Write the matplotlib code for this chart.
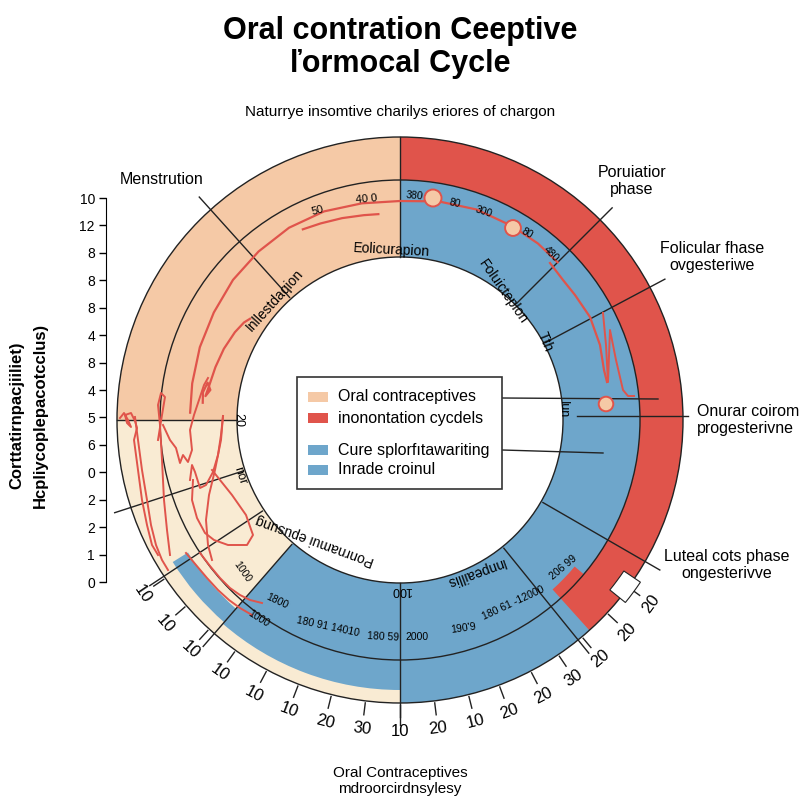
import numpy as np
import matplotlib
matplotlib.use('Agg')
import matplotlib.pyplot as plt
from matplotlib.patches import Wedge, Circle, Rectangle

plt.rcParams['font.family'] = ['Liberation Sans', 'DejaVu Sans']

PEACH = '#f5c9a6'
CREAM = '#f9ebd3'
BLUE = '#6ea6cb'
RED = '#e0544b'

# ring segments (deg, counter-clockwise from 3 o'clock)
seg_start = [90, 180, -131, -46, -90, 229, 212, -48, -39]
seg_end = [180, 270, 90, 90, -46, 270, 229, -40, -34]
seg_layer = ['both', 'both', 'inner', 'outer', 'outer', 'band', 'thin', 'step', 'notch']
seg_color = [PEACH, CREAM, BLUE, RED, BLUE, BLUE, BLUE, RED, 'white']

# divider / leader lines (deg)
divider_angles = [132, 45, 28, -30, -51, 198, 213.5, 229]

# outer scale around the bottom
scale_angles = [214, 221, 227.6, 234.5, 242, 249, 256, 263, 270, 277, 284,
                290.5, 297.5, 304, 310, 317, 323.8]
scale_labels = ['10', '10', '10', '10', '10', '10', '20', '30', '10', '20', '10',
                '20', '20', '30', '20', '20', '20']

# left axis
left_labels = ['10', '12', '8', '8', '8', '4', '8', '4', '5', '6', '0', '2', '2', '1', '0']

# hormone curves (polar: angle deg, radius)
arc_long_ang = [178, 170, 160, 150, 140, 130, 120, 110, 100, 90, 80, 70, 60, 52, 45]
arc_long_r = [210, 211, 213, 215, 218, 220, 222, 222, 220, 219, 222, 224, 224, 224, 223]
arc_short_ang = [117, 112, 106, 100, 96]
arc_short_r = [214, 212, 210, 208, 207]
arc_inner_ang = [146, 148, 152, 158, 164, 170, 173, 171, 169, 172, 175]
arc_inner_r = [181, 184, 187, 190, 192, 194, 196, 192, 196, 199, 198]

# hand traced squiggles (picture coords, y down)
sq_x = [
    [120, 124, 128, 131, 127, 125, 131, 135, 137, 134, 138, 142, 147, 152, 158],
    [135, 138, 142, 147, 151, 156, 162, 168],
    [158, 162, 165, 161, 158, 160, 162, 164, 167, 170],
    [163, 170, 176, 180, 183, 188, 192, 190, 194, 199, 204, 208],
    [190, 192, 195, 200, 206, 213, 218, 221, 223],
    [193, 192, 197, 205, 214, 228, 247, 253, 246, 232, 220, 212],
    [223, 221, 215, 209, 206, 208, 212],
    [186, 196, 207, 218, 229, 240, 252],
    [200, 210, 220, 230, 240, 250, 262],
]
sq_y = [
    [418, 413, 420, 427, 423, 415, 413, 421, 428, 440, 470, 500, 525, 545, 555],
    [417, 440, 470, 500, 525, 545, 560, 570],
    [440, 415, 397, 393, 405, 425, 460, 500, 530, 555],
    [425, 440, 448, 463, 455, 462, 450, 430, 415, 400, 385, 378],
    [480, 465, 472, 488, 485, 472, 455, 435, 416],
    [480, 500, 518, 533, 540, 545, 545, 535, 515, 495, 480, 470],
    [416, 440, 470, 495, 520, 545, 560],
    [553, 565, 578, 590, 600, 608, 615],
    [553, 566, 578, 588, 595, 600, 603],
]
right_x = [550, 563, 575, 590, 600, 604, 607]
right_y = [263, 280, 295, 317, 345, 370, 382]
right2_x = [603, 606, 608, 610, 616, 623, 628, 634]
right2_y = [313, 345, 382, 330, 360, 390, 396, 396]

# hormone markers (picture coords)
dot_x = [433, 513, 606]
dot_y = [198, 228, 404]

legend_labels = ['Oral contraceptives', 'inonontation cycdels',
                 'Cure splorfıtawariting', 'Inrade croinul']
legend_colors = [PEACH, RED, BLUE, BLUE]

CX, CY = 400, 380
R_IN, R_MID, R_OUT = 163, 240, 283
layer_r = {'both': (R_IN, R_OUT), 'inner': (R_IN, R_MID), 'outer': (R_MID, R_OUT),
           'band': (R_MID, 270), 'thin': (250, 268), 'step': (228, R_OUT),
           'notch': (270, 290)}


def py(y):
    return 800 - np.asarray(y, dtype=float)


def polar(ang, r):
    a = np.radians(np.asarray(ang, dtype=float))
    r = np.asarray(r, dtype=float)
    return CX + r * np.cos(a), CY + r * np.sin(a)


fig = plt.figure(figsize=(8, 8), dpi=100)
ax = fig.add_axes([0, 0, 1, 1])
ax.set_xlim(0, 800)
ax.set_ylim(0, 800)
ax.axis('off')

# ring fills
for t1, t2, layer, col in zip(seg_start, seg_end, seg_layer, seg_color):
    r0, r1 = layer_r[layer]
    if layer == 'notch':
        continue
    ax.add_patch(Wedge((CX, CY), r1, t1, t2, width=r1 - r0, facecolor=col,
                       edgecolor='none', zorder=1))

for r in (R_IN, R_MID, R_OUT):
    ax.add_patch(Circle((CX, CY), r, fill=False, edgecolor='#222222', lw=1.0, zorder=3))

# white notch at the luteal end
i = seg_layer.index('notch')
ax.add_patch(Wedge((CX, CY), layer_r['notch'][1], seg_start[i], seg_end[i],
                   width=layer_r['notch'][1] - layer_r['notch'][0],
                   facecolor='white', edgecolor='#222222', lw=0.8, zorder=4))

# divider lines
for a in divider_angles:
    x, y = polar([a, a], [R_IN + 2, 300])
    ax.plot(x, y, color='#222222', lw=1.0, zorder=3)
x, y = polar([90, 90], [R_IN, R_OUT])
ax.plot(x, y, color='#222222', lw=1.0, zorder=3)
x, y = polar([270, 270], [R_IN, 305])
ax.plot(x, y, color='#222222', lw=1.0, zorder=3)
x, y = polar([180, 180], [R_IN, R_OUT])
ax.plot(x, y, color='#222222', lw=1.0, zorder=3)

# outer scale
for a, lab in zip(scale_angles, scale_labels):
    x, y = polar([a, a], [R_OUT + 2, R_OUT + 14])
    ax.plot(x, y, color='#222222', lw=1.0, zorder=3)
    tx, ty = polar(a, R_OUT + 28)
    ax.text(tx, ty, lab, fontsize=12, rotation=a - 270, ha='center', va='center',
            rotation_mode='anchor')

# hormone curves
x, y = polar(arc_long_ang, arc_long_r)
ax.plot(x, y, color=RED, lw=1.6, zorder=5)
x, y = polar(arc_short_ang, arc_short_r)
ax.plot(x, y, color=RED, lw=1.6, zorder=5)
x, y = polar(arc_inner_ang, arc_inner_r)
ax.plot(x, y, color=RED, lw=1.6, zorder=5)
for xs, ys in zip(sq_x, sq_y):
    ax.plot(xs, py(ys), color=RED, lw=1.4, zorder=5)
ax.plot(right_x, py(right_y), color=RED, lw=1.6, zorder=5)
ax.plot(right2_x, py(right2_y), color=RED, lw=1.4, zorder=5)
ax.scatter(dot_x, py(dot_y), s=[150, 130, 110], facecolor=PEACH, edgecolor=RED,
           lw=1.4, zorder=6)

# legend box and connectors
ax.add_patch(Rectangle((297, py(489)), 205, 112, facecolor='white',
                       edgecolor='#333333', lw=1.2, zorder=6))
for yy, lab, col in zip([397, 418, 450, 470], legend_labels, legend_colors):
    ax.add_patch(Rectangle((308, py(yy) - 5), 20, 10, facecolor=col, edgecolor='none', zorder=7))
    ax.text(338, py(yy), lab, fontsize=11.5, ha='left', va='center', zorder=7)
ax.plot([502, 658], py([398, 399]), color='#222222', lw=1.0, zorder=5)
ax.plot([502, 603], py([450, 453]), color='#222222', lw=1.0, zorder=5)
ax.plot([577, 688], py([416, 416]), color='#222222', lw=1.0, zorder=5)

# titles
ax.text(400, py(31), 'Oral contration Ceeptive', fontsize=22, fontweight='bold',
        ha='center', va='center')
ax.text(400, py(64), 'ľormocal Cycle', fontsize=22, fontweight='bold',
        ha='center', va='center')
ax.text(400, py(112), 'Naturrye insomtive charilys eriores of chargon', fontsize=11,
        ha='center', va='center')
ax.text(400, py(781), 'Oral Contraceptives\nmdroorcirdnsylesy', fontsize=11,
        ha='center', va='center', linespacing=1.2)

# phase labels
ax.text(162, py(180), 'Menstrution', fontsize=11.5, ha='center', va='center')
ax.text(632, py(181), 'Poruiatior\nphase', fontsize=11.5, ha='center', va='center',
        linespacing=1.2)
ax.text(712, py(257), 'Folicular fhase\novgesteriwe', fontsize=11.5, ha='center',
        va='center', linespacing=1.2)
ax.text(697, py(420), 'Onurar coirom\nprogesterivne', fontsize=11.5, ha='left',
        va='center', linespacing=1.2)
ax.text(727, py(565), 'Luteal cots phase\nongesterivve', fontsize=11.5, ha='center',
        va='center', linespacing=1.2)

# labels inside the ring
inner_txt = [
    (392, 250, 'Eolicurapion', -3, 10), (275, 300, 'Inllestdaqion', 48, 10),
    (503, 292, 'Foluicteplon', -55, 10), (545, 342, 'Tth', -68, 10),
    (238, 420, '20', -90, 9), (240, 476, 'nor', -72, 9), (563, 410, 'Iun', -90, 9),
    (315, 540, 'Ponrnamui epusung', 160, 10), (402, 590, '100', 180, 9),
    (475, 572, 'Innpeaillis', 200, 10),
    (242, 572, '1000', -55, 7.5), (277, 601, '1800', -25, 7.5),
    (259, 619, '1000', -32, 7.5), (328, 627, '180 91 14010', -12, 7.5),
    (383, 637, '180 59', -3, 7.5), (417, 637, '2000', 0, 7.5),
    (463, 628, "190'9", 8, 7.5), (513, 603, '180 61 -12000', 25, 7.5),
    (563, 567, '206 99', 40, 7.5),
    (415, 196, '380', -5, 7.5), (455, 203, '80', -12, 7.5),
    (484, 212, '300', -18, 7.5), (527, 233, '80', -30, 7.5),
    (551, 254, '480', -45, 7.5), (318, 211, '50', 15, 8), (366, 199, '40 0', 5, 8),
]
for tx, ty, s, rot, fs in inner_txt:
    ax.text(tx, py(ty), s, fontsize=fs, rotation=rot, ha='center', va='center',
            rotation_mode='anchor', zorder=8)

# left value axis
lax = fig.add_axes([106 / 800, 1 - 582 / 800, 0.001, 384 / 800])
lax.set_ylim(0, len(left_labels) - 1)
lax.set_yticks(range(len(left_labels)))
lax.set_yticklabels(left_labels[::-1], fontsize=10)
lax.set_xticks([])
for side in ('top', 'right', 'bottom'):
    lax.spines[side].set_visible(False)
lax.tick_params(axis='y', direction='out', length=5, width=1, pad=3)
lax.patch.set_alpha(0)

ax.text(17, py(415), 'Corttatirnpacjiiliet)', fontsize=12, fontweight='bold',
        rotation=90, ha='center', va='center')
ax.text(40, py(415), 'Hcpliycoplepacotcclus)', fontsize=12, fontweight='bold',
        rotation=90, ha='center', va='center')

fig.savefig('out.png', dpi=100)
